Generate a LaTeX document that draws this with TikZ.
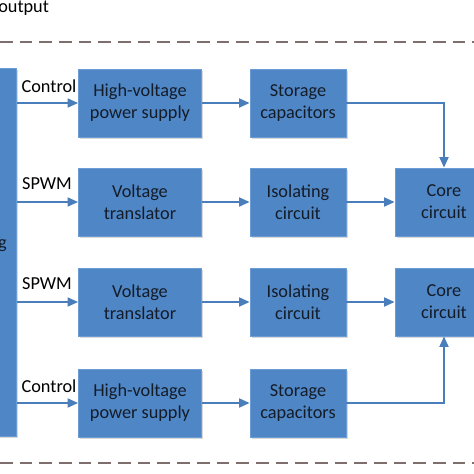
\documentclass[tikz,border=0pt]{standalone}
\usepackage{fontspec}
\setmainfont{Carlito}
\usetikzlibrary{positioning, arrows.meta, shadows}

\definecolor{boxblue}{HTML}{4F86C6}
\definecolor{boxedge}{HTML}{6C9CD4}
\definecolor{linkblue}{HTML}{4A7EBB}
\definecolor{dashgray}{HTML}{7E6E6E}
\definecolor{txtdark}{HTML}{141C28}

\tikzset{
  block/.style={draw=boxedge, fill=boxblue, line width=0.6pt, text=txtdark,
    align=center, minimum height=1.7cm, inner sep=0pt,
    font=\fontsize{13}{15.6}\selectfont,
    drop shadow={shadow xshift=1.2pt, shadow yshift=-1.2pt, opacity=0.3, fill=gray}},
  link/.style={-{Triangle[length=7.5pt,width=6.5pt]}, draw=linkblue, line width=1.1pt},
  sig/.style={font=\fontsize{13}{15}\selectfont, inner sep=0pt, text=black},
  frame/.style={dashgray, line width=1.5pt, dash pattern=on 9pt off 5pt}
}

\begin{document}
\begin{tikzpicture}[x=0.025cm, y=-0.025cm]
    \useasboundingbox (0,0) rectangle (474,474);
    \clip (0,0) rectangle (474,474);
    % Draw frame
    \node[sig, anchor=west] (outtext) at (-2,8) {output};
    \draw[frame] (0,42) -- (474,42);
    \draw[frame] (0,463) -- (474,463);

    % Draw left control block
    \node[block, minimum width=2.5cm, minimum height=9.2cm, anchor=east] (ctrl) at (17,252) {};
    \node[sig, text=txtdark, anchor=east] (ctrltext) at (7,246) {g};

    % Draw the four rows of blocks
    \node[block, minimum width=3.075cm] (hv1) at (140,103) {High-voltage\\power supply};
    \node[block, minimum width=2.4cm] (sc1) at (298,103) {Storage\\capacitors};

    \node[block, minimum width=3.075cm] (vt1) at (140,202) {Voltage\\translator};
    \node[block, minimum width=2.4cm] (ic1) at (298,202) {Isolating\\circuit};
    \node[block, minimum width=2.45cm] (cc1) at (444,202) {Core\\circuit};

    \node[block, minimum width=3.075cm] (vt2) at (140,302) {Voltage\\translator};
    \node[block, minimum width=2.4cm] (ic2) at (298,302) {Isolating\\circuit};
    \node[block, minimum width=2.45cm] (cc2) at (444,302) {Core\\circuit};

    \node[block, minimum width=3.075cm] (hv2) at (140,403) {High-voltage\\power supply};
    \node[block, minimum width=2.4cm] (sc2) at (298,403) {Storage\\capacitors};

    % Draw signal labels
    \node[sig] (lc1) at (49,86) {Control};
    \node[sig] (ls1) at (47,184) {SPWM};
    \node[sig] (ls2) at (47,284) {SPWM};
    \node[sig] (lc2) at (49,386) {Control};

    % Draw connections
    \draw[link] (ctrl.east |- hv1) -- (hv1);
    \draw[link] (ctrl.east |- vt1) -- (vt1);
    \draw[link] (ctrl.east |- vt2) -- (vt2);
    \draw[link] (ctrl.east |- hv2) -- (hv2);

    \draw[link] (hv1) -- (sc1);
    \draw[link] (vt1) -- (ic1);
    \draw[link] (vt2) -- (ic2);
    \draw[link] (hv2) -- (sc2);

    \draw[link] (ic1) -- (cc1);
    \draw[link] (ic2) -- (cc2);
    \draw[link] (sc1) -| (cc1);
    \draw[link] (sc2) -| (cc2);
  \end{tikzpicture}
\end{document}
